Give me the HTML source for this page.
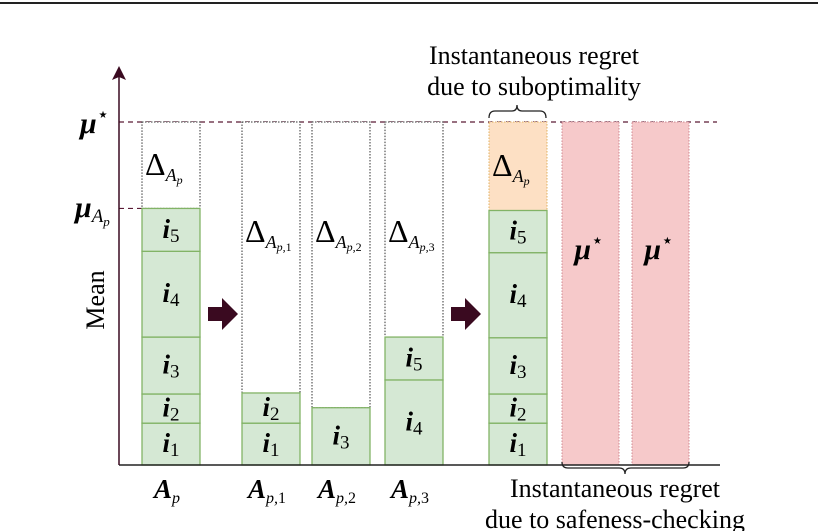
<!DOCTYPE html>
<html><head><meta charset="utf-8"><style>
body{margin:0;background:#fff;}
svg{display:block;font-family:"Liberation Serif",serif;}
</style></head><body>
<svg id="chart" width="818" height="531" viewBox="0 0 818 531">
<line x1="0" y1="3" x2="818" y2="3" stroke="#222" stroke-width="2"/>
<g id="marks"></g>
<line x1="119" y1="465" x2="720" y2="465" stroke="#222" stroke-width="1.5"/>
<line x1="119" y1="465" x2="119" y2="76" stroke="#3a0a20" stroke-width="1.5"/>
<polygon points="119,66 112,80 119,77 126,80" fill="#3a0a20"/>
<text x="0" y="0" transform="translate(104,300) rotate(-90)" text-anchor="middle" font-size="26">Mean</text>
<g font-style="italic" font-size="30" font-weight="bold">
<text x="80" y="133">μ<tspan font-size="20" dy="-12" font-style="normal" font-weight="normal">⋆</tspan></text>
<text x="75" y="217">μ<tspan font-size="19" dy="5" font-weight="normal">A</tspan><tspan font-size="13" dy="4" font-weight="normal">p</tspan></text>
</g>
<polygon points="208,307 222,307 222,298 238,314 222,330 222,321 208,321" fill="#3a0a20"/>
<polygon points="451,307 465,307 465,298 481,314 465,330 465,321 451,321" fill="#3a0a20"/>
<path d="M489,118 Q489,111 495,111 L512,111 Q517,111 517,105 Q517,111 522,111 L540,111 Q546,111 546,118" fill="none" stroke="#222" stroke-width="1.3"/>
<path d="M562,462 Q562,468 568,468 L619,468 Q625,468 625,474 Q625,468 631,468 L683,468 Q689,468 689,462" fill="none" stroke="#222" stroke-width="1.3"/>
<g font-size="26" text-anchor="middle">
<text x="534" y="64">Instantaneous regret</text>
<text x="534" y="95">due to suboptimality</text>
<text x="615" y="497">Instantaneous regret</text>
<text x="615" y="528">due to safeness-checking</text>
</g>
</svg>
<script>
const barNames = ["Ap","Ap1","Ap2","Ap3","Ap-final","safe-1","safe-2"];
const barX = [142,242,312,385,489,562,632];
const segLabels = [["1","2","3","4","5"],["1","2"],["3"],["4","5"],["1","2","3","4","5"],[],[]];
const segValues = [[0.122,0.085,0.166,0.25,0.125],[0.122,0.088],[0.167],[0.248,0.125],[0.122,0.085,0.164,0.248,0.123],[],[]];
const deltaLabels = ["Ap","Ap,1","Ap,2","Ap,3","Ap","",""];
const muStar = 1.0;
const y0=465, y1=122;
const yS = v => y0 - v*(y0-y1)/muStar;
const W=58;
const NS="http://www.w3.org/2000/svg";
const g=document.getElementById('marks');
function mk(tag,attrs){const e=document.createElementNS(NS,tag);for(const k in attrs)e.setAttribute(k,attrs[k]);g.appendChild(e);return e;}
let l=mk('line',{x1:119,y1:yS(muStar),x2:717,y2:yS(muStar),stroke:'#5a1a35','stroke-dasharray':'5,4','stroke-width':1.2});


const muAp=segValues[0].reduce((a,b)=>a+b,0);
l=mk('line',{x1:119,y1:yS(muAp),x2:142,y2:yS(muAp),stroke:'#5a1a35','stroke-dasharray':'5,4','stroke-width':1.2});


barNames.forEach((nm,b)=>{
  const x=barX[b];
  const total=segValues[b].reduce((a,c)=>a+c,0);
  if(b>=5){
    const r=mk('rect',{x:x,y:yS(muStar),width:W-1,height:yS(0)-yS(muStar),fill:'#f6c9ca',stroke:'#d08890','stroke-dasharray':'1.5,1.5'});
    
    
    const t=mk('text',{x:x+W/2-2,y:yS(0.6),'text-anchor':'middle','font-size':30,'font-style':'italic','font-weight':'bold'});
    t.innerHTML='μ<tspan font-size="20" dy="-12" font-style="normal" font-weight="normal">⋆</tspan>';
    
    
    return;
  }
  const isFinal=b===4;
  const d=mk('rect',{x:x,y:yS(muStar),width:W,height:yS(total)-yS(muStar),fill:isFinal?'#fde0c4':'#fff',stroke:isFinal?'#e0b060':'#333','stroke-dasharray':'1.5,1.5','stroke-width':1});
  
  
  const dl=deltaLabels[b];
  const sub=dl.split(',');
  const dy=(b===0||b===4)?yS(muStar)+ (yS(total)-yS(muStar))/2+10 : 242;
  const dt=mk('text',{x:x+3,y:dy,'font-size':32});
  dt.innerHTML='Δ<tspan font-size="18" font-style="italic" dy="6">A</tspan><tspan font-size="12" font-style="italic" dy="3">'+sub[0].slice(1)+(sub[1]?',</tspan><tspan font-size="12" dy="0">'+sub[1]:'')+'</tspan>';
  
  
  let acc=0;
  segValues[b].forEach((v,k)=>{
    const top=yS(acc+v), bot=yS(acc);
    const r=mk('rect',{x:x,y:top,width:W,height:bot-top,fill:'#d5e8d4',stroke:'#82b366','stroke-width':1.3});
    
    
    const t=mk('text',{x:x+W/2,y:(top+bot)/2+8,'text-anchor':'middle','font-size':27,'font-style':'italic','font-weight':'bold'});
    t.innerHTML='i<tspan font-size="19" font-style="normal" font-weight="normal" dy="4">'+segLabels[b][k]+'</tspan>';
    
    
    acc+=v;
  });
  if(b<4){
    const t=mk('text',{x:x+W/2-4,y:498,'text-anchor':'middle','font-size':27,'font-style':'italic','font-weight':'bold'});
    t.innerHTML='A<tspan font-size="16" dy="5" font-weight="normal">'+(sub[1]?'p,':'p')+'</tspan>'+(sub[1]?'<tspan font-size="16" font-style="normal" font-weight="normal">'+sub[1]+'</tspan>':'');
    
    
  }
});
</script>
</body></html>
